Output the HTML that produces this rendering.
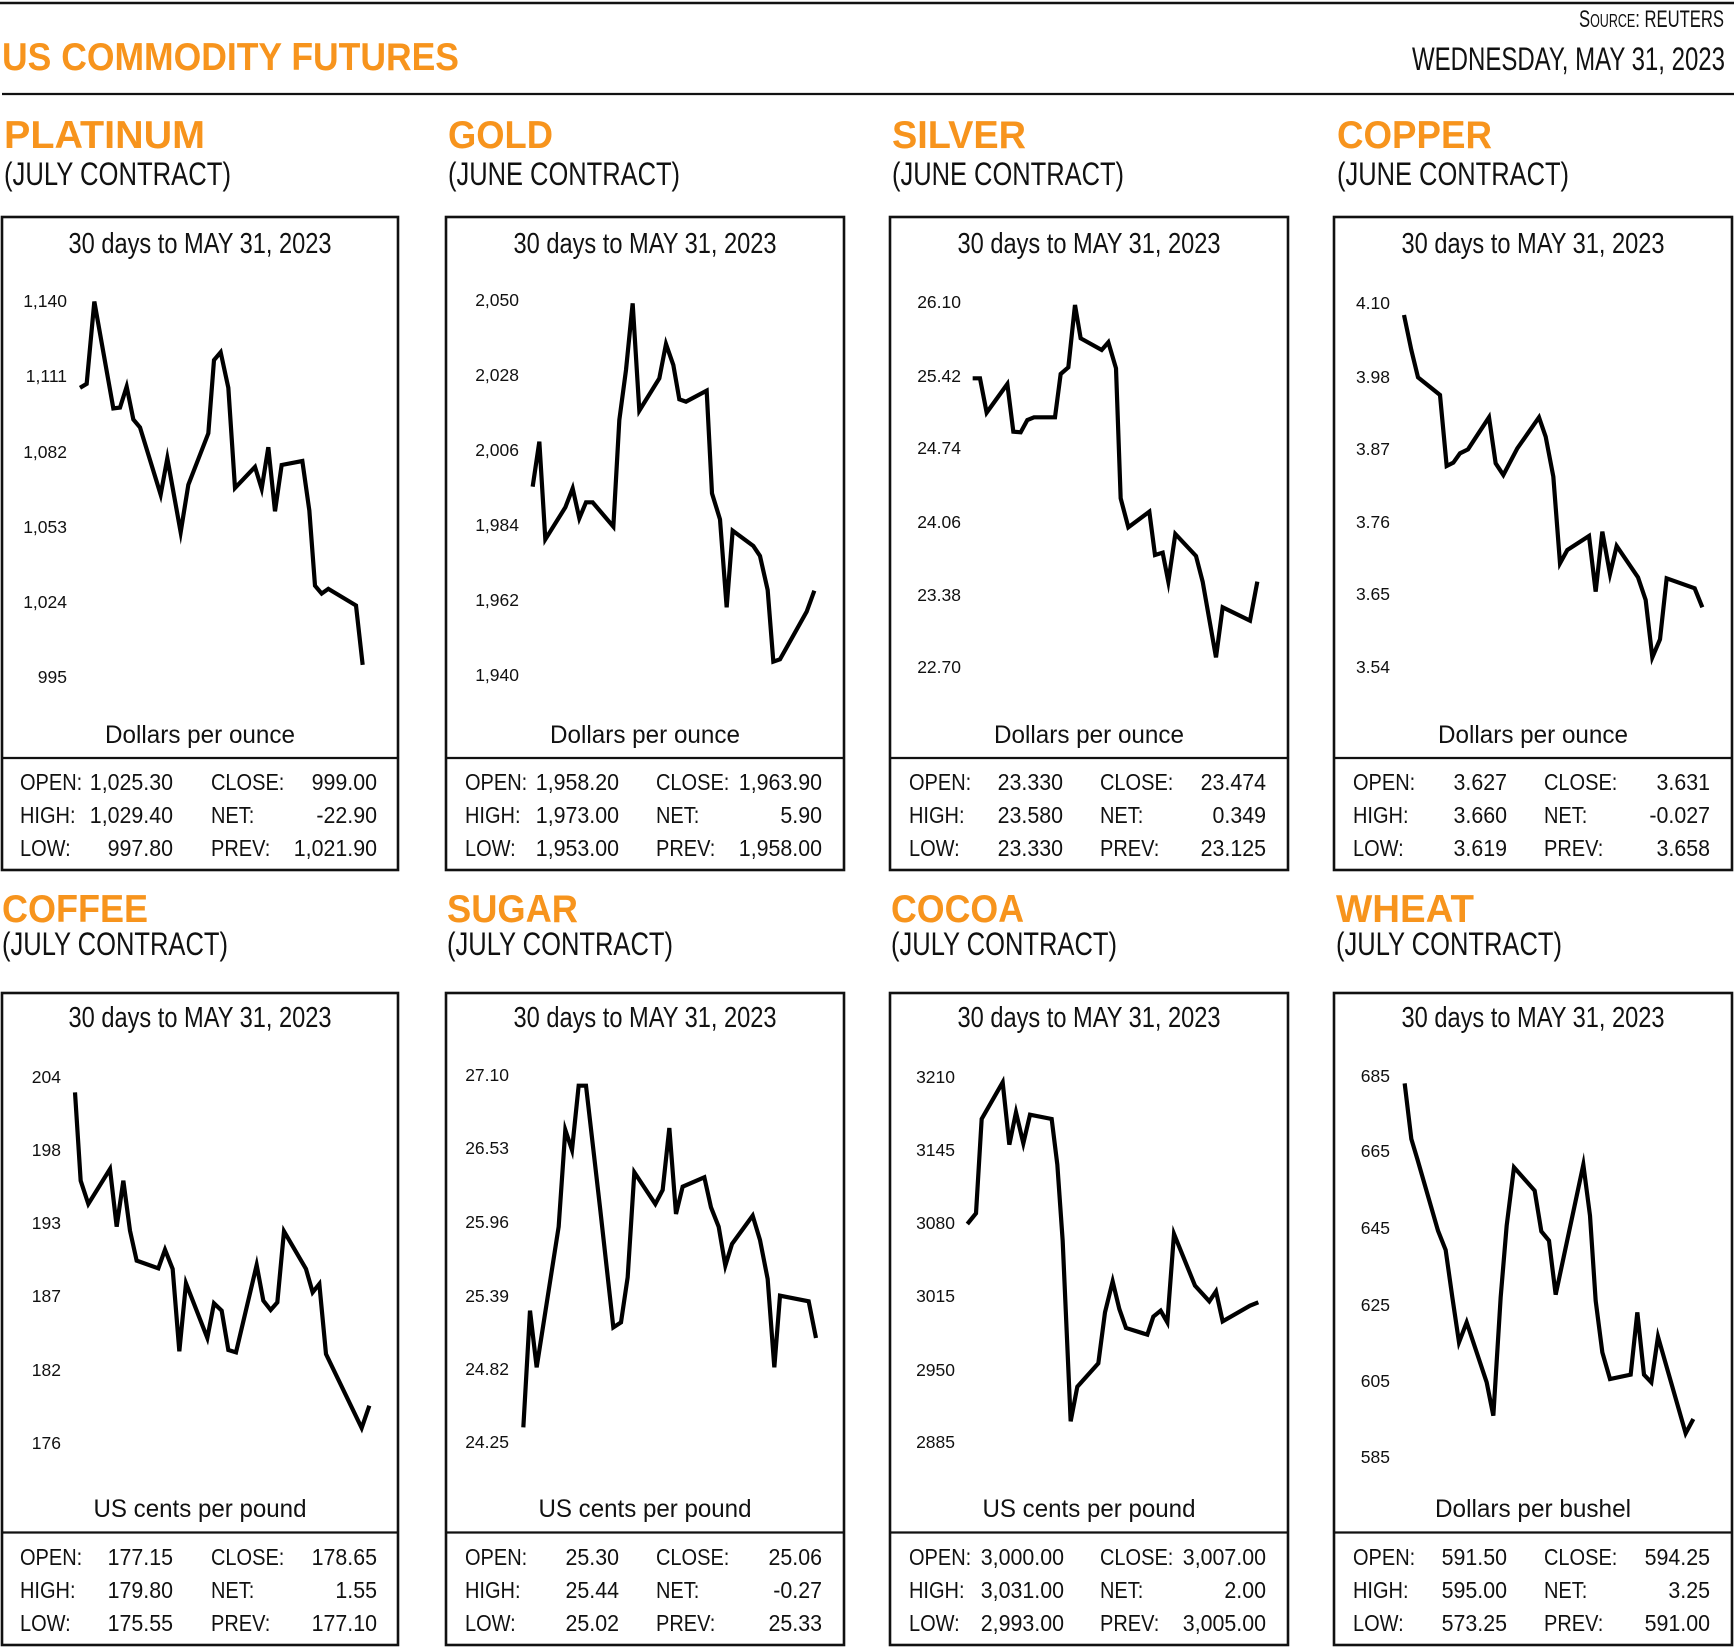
<!DOCTYPE html>
<html>
<head>
<meta charset="utf-8">
<style>
html,body{margin:0;padding:0;background:#fff;}
svg{display:block;}
.h{font-family:"Liberation Sans",sans-serif;font-weight:bold;fill:#F7941D;font-size:39px;}
.c{font-family:"Liberation Sans Narrow","Liberation Sans",sans-serif;fill:#111;font-size:32px;}
.t{font-family:"Liberation Sans Narrow","Liberation Sans",sans-serif;fill:#111;font-size:29px;}
.u{font-family:"Liberation Sans Narrow","Liberation Sans",sans-serif;fill:#111;font-size:25px;}
.k{font-family:"Liberation Sans",sans-serif;fill:#111;font-size:17.5px;text-anchor:end;}
.s{font-family:"Liberation Sans",sans-serif;fill:#111;font-size:23px;}
.s text{transform-box:fill-box;transform-origin:0% 50%;transform:scaleX(0.87);}
.s text.e{text-anchor:end;transform-origin:100% 50%;transform:scaleX(0.93);}
.box{fill:none;stroke:#111;stroke-width:2.6;}
.dv{stroke:#111;stroke-width:2.2;}
.ln{fill:none;stroke:#000;stroke-width:4.2;stroke-linejoin:miter;stroke-miterlimit:6;}
</style>
</head>
<body>
<svg width="1734" height="1649" viewBox="0 0 1734 1649" xmlns="http://www.w3.org/2000/svg">
<!-- header -->
<line x1="0" y1="3" x2="1734" y2="3" stroke="#111" stroke-width="2.5"/>
<line x1="2" y1="94" x2="1734" y2="94" stroke="#111" stroke-width="2.2"/>
<text class="h" x="2" y="70" textLength="457" lengthAdjust="spacingAndGlyphs">US COMMODITY FUTURES</text>
<text x="1724" y="27" text-anchor="end" font-family="'Liberation Sans Narrow','Liberation Sans',sans-serif" fill="#111" font-size="24" textLength="145" lengthAdjust="spacingAndGlyphs">S<tspan font-size="18">OURCE</tspan>: REUTERS</text>
<text class="c" x="1725" y="70" text-anchor="end" font-size="33" textLength="313" lengthAdjust="spacingAndGlyphs">WEDNESDAY, MAY 31, 2023</text>

<!-- ROW 1 headers -->
<text class="h" x="4" y="148" textLength="201" lengthAdjust="spacingAndGlyphs">PLATINUM</text>
<text class="c" x="4" y="185" textLength="227" lengthAdjust="spacingAndGlyphs">(JULY CONTRACT)</text>
<text class="h" x="448" y="148" textLength="105" lengthAdjust="spacingAndGlyphs">GOLD</text>
<text class="c" x="448" y="185" textLength="232" lengthAdjust="spacingAndGlyphs">(JUNE CONTRACT)</text>
<text class="h" x="892" y="148" textLength="134" lengthAdjust="spacingAndGlyphs">SILVER</text>
<text class="c" x="892" y="185" textLength="232" lengthAdjust="spacingAndGlyphs">(JUNE CONTRACT)</text>
<text class="h" x="1337" y="148" textLength="155" lengthAdjust="spacingAndGlyphs">COPPER</text>
<text class="c" x="1337" y="185" textLength="232" lengthAdjust="spacingAndGlyphs">(JUNE CONTRACT)</text>

<!-- ROW 1 boxes -->
<rect class="box" x="2" y="217" width="396" height="653"/>
<rect class="box" x="446" y="217" width="398" height="653"/>
<rect class="box" x="890" y="217" width="398" height="653"/>
<rect class="box" x="1334" y="217" width="398" height="653"/>
<line class="dv" x1="2" y1="758" x2="398" y2="758"/>
<line class="dv" x1="446" y1="758" x2="844" y2="758"/>
<line class="dv" x1="890" y1="758" x2="1288" y2="758"/>
<line class="dv" x1="1334" y1="758" x2="1732" y2="758"/>

<text class="t" x="200" y="253" text-anchor="middle" textLength="263" lengthAdjust="spacingAndGlyphs">30 days to MAY 31, 2023</text>
<text class="t" x="645" y="253" text-anchor="middle" textLength="263" lengthAdjust="spacingAndGlyphs">30 days to MAY 31, 2023</text>
<text class="t" x="1089" y="253" text-anchor="middle" textLength="263" lengthAdjust="spacingAndGlyphs">30 days to MAY 31, 2023</text>
<text class="t" x="1533" y="253" text-anchor="middle" textLength="263" lengthAdjust="spacingAndGlyphs">30 days to MAY 31, 2023</text>

<text class="u" x="200" y="743" text-anchor="middle" textLength="190" lengthAdjust="spacingAndGlyphs">Dollars per ounce</text>
<text class="u" x="645" y="743" text-anchor="middle" textLength="190" lengthAdjust="spacingAndGlyphs">Dollars per ounce</text>
<text class="u" x="1089" y="743" text-anchor="middle" textLength="190" lengthAdjust="spacingAndGlyphs">Dollars per ounce</text>
<text class="u" x="1533" y="743" text-anchor="middle" textLength="190" lengthAdjust="spacingAndGlyphs">Dollars per ounce</text>

<!-- ticks row1 -->
<g class="k">
<text x="67" y="307">1,140</text><text x="67" y="382">1,111</text><text x="67" y="458">1,082</text><text x="67" y="533">1,053</text><text x="67" y="608">1,024</text><text x="67" y="683">995</text>
<text x="519" y="306">2,050</text><text x="519" y="381">2,028</text><text x="519" y="456">2,006</text><text x="519" y="531">1,984</text><text x="519" y="606">1,962</text><text x="519" y="681">1,940</text>
<text x="961" y="308">26.10</text><text x="961" y="382">25.42</text><text x="961" y="454">24.74</text><text x="961" y="528">24.06</text><text x="961" y="601">23.38</text><text x="961" y="673">22.70</text>
<text x="1390" y="309">4.10</text><text x="1390" y="383">3.98</text><text x="1390" y="455">3.87</text><text x="1390" y="528">3.76</text><text x="1390" y="600">3.65</text><text x="1390" y="673">3.54</text>
</g>

<!-- lines row1 -->
<g transform="translate(0,269.1) scale(0.33333,0.39573)">
<polyline class="ln" vector-effect="non-scaling-stroke" points="240,300 260,290 283,82 340,352 360,350 380,297 400,380 420,400 482,570 502,478 542,665 565,545 625,415 642,230 662,210 685,300 705,553 765,500 785,555 805,450 825,612 845,495 907,485 928,610 945,800 965,820 985,808 1068,850 1088,1000"/>
</g>
<g transform="translate(446,270) scale(0.33333)">
<polyline class="ln" vector-effect="non-scaling-stroke" points="260,650 280,515 298,808 358,712 380,655 400,745 420,697 440,697 502,770 520,450 540,300 560,100 580,422 640,325 660,222 682,285 700,388 720,395 782,362 798,670 822,748 842,1012 860,782 922,828 942,858 965,960 982,1175 1002,1168 1082,1025 1105,962"/>
</g>
<g transform="translate(890,270) scale(0.33333)">
<polyline class="ln" vector-effect="non-scaling-stroke" points="248,325 270,325 290,428 352,342 370,485 392,487 412,450 432,442 495,442 512,312 535,292 555,105 572,205 635,240 655,217 678,295 692,685 715,772 778,725 795,855 818,848 835,935 856,792 918,858 938,935 978,1162 998,1012 1080,1052 1102,935"/>
</g>
<g transform="translate(1334,270) scale(0.33333)">
<polyline class="ln" vector-effect="non-scaling-stroke" points="210,135 232,240 252,322 318,375 338,588 358,578 378,550 402,538 465,442 485,580 508,615 550,535 615,442 635,500 658,620 678,880 700,840 765,798 785,965 805,785 828,912 848,828 912,922 935,990 955,1162 978,1108 998,925 1082,955 1105,1012"/>
</g>

<!-- stats row1 -->
<g class="s">
<text x="20" y="790">OPEN:</text><text class="e" x="173" y="790">1,025.30</text><text x="211" y="790">CLOSE:</text><text class="e" x="377" y="790">999.00</text>
<text x="20" y="823">HIGH:</text><text class="e" x="173" y="823">1,029.40</text><text x="211" y="823">NET:</text><text class="e" x="377" y="823">-22.90</text>
<text x="20" y="856">LOW:</text><text class="e" x="173" y="856">997.80</text><text x="211" y="856">PREV:</text><text class="e" x="377" y="856">1,021.90</text>

<text x="465" y="790">OPEN:</text><text class="e" x="619" y="790">1,958.20</text><text x="656" y="790">CLOSE:</text><text class="e" x="822" y="790">1,963.90</text>
<text x="465" y="823">HIGH:</text><text class="e" x="619" y="823">1,973.00</text><text x="656" y="823">NET:</text><text class="e" x="822" y="823">5.90</text>
<text x="465" y="856">LOW:</text><text class="e" x="619" y="856">1,953.00</text><text x="656" y="856">PREV:</text><text class="e" x="822" y="856">1,958.00</text>

<text x="909" y="790">OPEN:</text><text class="e" x="1063" y="790">23.330</text><text x="1100" y="790">CLOSE:</text><text class="e" x="1266" y="790">23.474</text>
<text x="909" y="823">HIGH:</text><text class="e" x="1063" y="823">23.580</text><text x="1100" y="823">NET:</text><text class="e" x="1266" y="823">0.349</text>
<text x="909" y="856">LOW:</text><text class="e" x="1063" y="856">23.330</text><text x="1100" y="856">PREV:</text><text class="e" x="1266" y="856">23.125</text>

<text x="1353" y="790">OPEN:</text><text class="e" x="1507" y="790">3.627</text><text x="1544" y="790">CLOSE:</text><text class="e" x="1710" y="790">3.631</text>
<text x="1353" y="823">HIGH:</text><text class="e" x="1507" y="823">3.660</text><text x="1544" y="823">NET:</text><text class="e" x="1710" y="823">-0.027</text>
<text x="1353" y="856">LOW:</text><text class="e" x="1507" y="856">3.619</text><text x="1544" y="856">PREV:</text><text class="e" x="1710" y="856">3.658</text>
</g>

<!-- ROW 2 headers -->
<text class="h" x="2" y="922" textLength="146" lengthAdjust="spacingAndGlyphs">COFFEE</text>
<text class="c" x="2" y="955" textLength="226" lengthAdjust="spacingAndGlyphs">(JULY CONTRACT)</text>
<text class="h" x="447" y="922" textLength="131" lengthAdjust="spacingAndGlyphs">SUGAR</text>
<text class="c" x="447" y="955" textLength="226" lengthAdjust="spacingAndGlyphs">(JULY CONTRACT)</text>
<text class="h" x="891" y="922" textLength="133" lengthAdjust="spacingAndGlyphs">COCOA</text>
<text class="c" x="891" y="955" textLength="226" lengthAdjust="spacingAndGlyphs">(JULY CONTRACT)</text>
<text class="h" x="1336" y="922" textLength="138" lengthAdjust="spacingAndGlyphs">WHEAT</text>
<text class="c" x="1336" y="955" textLength="226" lengthAdjust="spacingAndGlyphs">(JULY CONTRACT)</text>

<!-- ROW 2 boxes -->
<rect class="box" x="2" y="993" width="396" height="652"/>
<rect class="box" x="446" y="993" width="398" height="652"/>
<rect class="box" x="890" y="993" width="398" height="652"/>
<rect class="box" x="1334" y="993" width="398" height="652"/>
<line class="dv" x1="2" y1="1532.5" x2="398" y2="1532.5"/>
<line class="dv" x1="446" y1="1532.5" x2="844" y2="1532.5"/>
<line class="dv" x1="890" y1="1532.5" x2="1288" y2="1532.5"/>
<line class="dv" x1="1334" y1="1532.5" x2="1732" y2="1532.5"/>

<text class="t" x="200" y="1027" text-anchor="middle" textLength="263" lengthAdjust="spacingAndGlyphs">30 days to MAY 31, 2023</text>
<text class="t" x="645" y="1027" text-anchor="middle" textLength="263" lengthAdjust="spacingAndGlyphs">30 days to MAY 31, 2023</text>
<text class="t" x="1089" y="1027" text-anchor="middle" textLength="263" lengthAdjust="spacingAndGlyphs">30 days to MAY 31, 2023</text>
<text class="t" x="1533" y="1027" text-anchor="middle" textLength="263" lengthAdjust="spacingAndGlyphs">30 days to MAY 31, 2023</text>

<text class="u" x="200" y="1517" text-anchor="middle" textLength="213" lengthAdjust="spacingAndGlyphs">US cents per pound</text>
<text class="u" x="645" y="1517" text-anchor="middle" textLength="213" lengthAdjust="spacingAndGlyphs">US cents per pound</text>
<text class="u" x="1089" y="1517" text-anchor="middle" textLength="213" lengthAdjust="spacingAndGlyphs">US cents per pound</text>
<text class="u" x="1533" y="1517" text-anchor="middle" textLength="196" lengthAdjust="spacingAndGlyphs">Dollars per bushel</text>

<!-- ticks row2 -->
<g class="k">
<text x="61" y="1083">204</text><text x="61" y="1156">198</text><text x="61" y="1229">193</text><text x="61" y="1302">187</text><text x="61" y="1376">182</text><text x="61" y="1449">176</text>
<text x="509" y="1081">27.10</text><text x="509" y="1154">26.53</text><text x="509" y="1228">25.96</text><text x="509" y="1302">25.39</text><text x="509" y="1375">24.82</text><text x="509" y="1448">24.25</text>
<text x="955" y="1083">3210</text><text x="955" y="1156">3145</text><text x="955" y="1229">3080</text><text x="955" y="1302">3015</text><text x="955" y="1376">2950</text><text x="955" y="1448">2885</text>
<text x="1390" y="1082">685</text><text x="1390" y="1157">665</text><text x="1390" y="1234">645</text><text x="1390" y="1311">625</text><text x="1390" y="1387">605</text><text x="1390" y="1463">585</text>
</g>

<!-- lines row2 -->
<g transform="translate(0,1044) scale(0.33333)">
<polyline class="ln" vector-effect="non-scaling-stroke" points="225,145 242,410 265,480 330,375 350,548 370,410 390,560 410,650 475,673 495,617 518,675 538,922 558,718 622,882 642,778 665,800 685,918 708,925 770,663 790,770 812,798 832,775 852,562 918,675 938,745 958,720 978,930 1085,1152 1108,1085"/>
</g>
<g transform="translate(446,1044) scale(0.33333)">
<polyline class="ln" vector-effect="non-scaling-stroke" points="232,1150 252,800 272,970 338,548 358,258 378,318 398,125 420,125 462,490 502,850 525,835 545,700 565,385 628,480 650,438 670,252 690,510 710,428 775,400 795,490 818,548 838,665 858,600 920,515 942,588 965,705 985,970 1002,755 1088,772 1110,882"/>
</g>
<g transform="translate(890,1044) scale(0.33333)">
<polyline class="ln" vector-effect="non-scaling-stroke" points="232,540 258,508 275,225 338,115 358,302 378,205 400,298 420,212 485,225 502,362 518,590 542,1132 562,1028 625,958 645,805 668,712 688,795 708,852 772,872 790,818 812,800 832,835 852,570 915,725 958,772 978,742 998,832 1080,785 1105,775"/>
</g>
<g transform="translate(1334,1044) scale(0.33333)">
<polyline class="ln" vector-effect="non-scaling-stroke" points="212,118 232,285 250,345 312,560 335,618 355,760 375,895 398,835 458,1015 478,1115 500,760 518,545 540,370 602,440 622,562 645,590 665,752 748,362 768,515 785,770 805,925 828,1005 890,992 910,805 930,992 952,1015 972,878 1055,1168 1078,1125"/>
</g>

<!-- stats row2 -->
<g class="s">
<text x="20" y="1565">OPEN:</text><text class="e" x="173" y="1565">177.15</text><text x="211" y="1565">CLOSE:</text><text class="e" x="377" y="1565">178.65</text>
<text x="20" y="1598">HIGH:</text><text class="e" x="173" y="1598">179.80</text><text x="211" y="1598">NET:</text><text class="e" x="377" y="1598">1.55</text>
<text x="20" y="1631">LOW:</text><text class="e" x="173" y="1631">175.55</text><text x="211" y="1631">PREV:</text><text class="e" x="377" y="1631">177.10</text>

<text x="465" y="1565">OPEN:</text><text class="e" x="619" y="1565">25.30</text><text x="656" y="1565">CLOSE:</text><text class="e" x="822" y="1565">25.06</text>
<text x="465" y="1598">HIGH:</text><text class="e" x="619" y="1598">25.44</text><text x="656" y="1598">NET:</text><text class="e" x="822" y="1598">-0.27</text>
<text x="465" y="1631">LOW:</text><text class="e" x="619" y="1631">25.02</text><text x="656" y="1631">PREV:</text><text class="e" x="822" y="1631">25.33</text>

<text x="909" y="1565">OPEN:</text><text class="e" x="1064" y="1565">3,000.00</text><text x="1100" y="1565">CLOSE:</text><text class="e" x="1266" y="1565">3,007.00</text>
<text x="909" y="1598">HIGH:</text><text class="e" x="1064" y="1598">3,031.00</text><text x="1100" y="1598">NET:</text><text class="e" x="1266" y="1598">2.00</text>
<text x="909" y="1631">LOW:</text><text class="e" x="1064" y="1631">2,993.00</text><text x="1100" y="1631">PREV:</text><text class="e" x="1266" y="1631">3,005.00</text>

<text x="1353" y="1565">OPEN:</text><text class="e" x="1507" y="1565">591.50</text><text x="1544" y="1565">CLOSE:</text><text class="e" x="1710" y="1565">594.25</text>
<text x="1353" y="1598">HIGH:</text><text class="e" x="1507" y="1598">595.00</text><text x="1544" y="1598">NET:</text><text class="e" x="1710" y="1598">3.25</text>
<text x="1353" y="1631">LOW:</text><text class="e" x="1507" y="1631">573.25</text><text x="1544" y="1631">PREV:</text><text class="e" x="1710" y="1631">591.00</text>
</g>
</svg>
</body>
</html>
